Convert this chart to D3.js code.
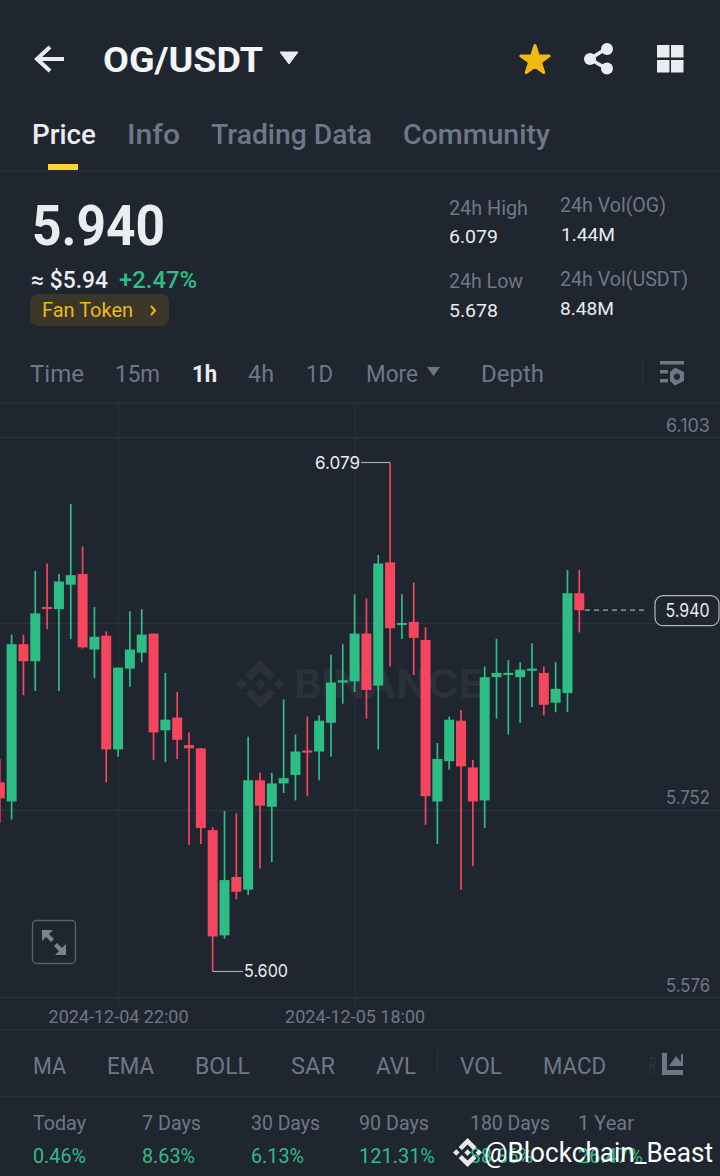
<!DOCTYPE html>
<html>
<head>
<meta charset="utf-8">
<script src="https://cdn.jsdelivr.net/npm/d3@7"></script>
<style>
  html, body { margin: 0; padding: 0; background: #1f2630; }
  svg { display: block; }
</style>
</head>
<body>
<div id="chart"></div>
<script>
const opens = [5.778,5.760,5.908,5.892,5.943,5.941,5.964,5.974,5.903,5.916,5.809,5.885,5.900,5.918,5.827,5.839,5.813,5.810,5.733,5.634,5.689,5.677,5.780,5.755,5.777,5.785,5.808,5.807,5.834,5.872,5.873,5.918,5.869,5.985,5.927,5.929,5.912,5.760,5.798,5.836,5.792,5.761,5.877,5.879,5.877,5.883,5.881,5.853,5.862,5.956];
const highs = [5.800,5.917,5.917,5.977,5.984,5.974,6.040,6.000,5.943,5.920,5.886,5.939,5.941,5.918,5.881,5.863,5.825,5.810,5.736,5.751,5.749,5.821,5.787,5.787,5.856,5.823,5.840,5.841,5.898,5.908,5.955,5.951,5.992,6.079,5.955,5.966,5.924,5.815,5.840,5.846,5.799,5.887,5.913,5.893,5.891,5.909,5.887,5.891,5.978,5.978];
const lows = [5.740,5.743,5.860,5.864,5.922,5.864,5.913,5.904,5.876,5.778,5.802,5.868,5.891,5.799,5.797,5.800,5.719,5.720,5.600,5.631,5.668,5.672,5.697,5.703,5.768,5.761,5.765,5.780,5.802,5.852,5.863,5.838,5.809,5.887,5.913,5.879,5.738,5.720,5.790,5.677,5.699,5.735,5.838,5.823,5.834,5.849,5.841,5.844,5.844,5.919];
const closes = [5.763,5.908,5.892,5.937,5.942,5.967,5.973,5.905,5.915,5.809,5.886,5.903,5.917,5.825,5.837,5.818,5.810,5.735,5.633,5.686,5.675,5.780,5.756,5.777,5.782,5.807,5.806,5.836,5.872,5.874,5.918,5.865,5.984,5.923,5.928,5.914,5.765,5.800,5.837,5.793,5.760,5.877,5.881,5.881,5.884,5.885,5.851,5.866,5.956,5.940];

const priceTicks = [6.103, 5.928, 5.752, 5.576];
const priceLabels = ['6.103', '', '5.752', '5.576'];
const timeTicks = ['2024-12-04 22:00', '2024-12-05 18:00'];
const firstCandle = '2024-12-04 12:00';
const lastPrice = 5.940;
const dayHigh = 6.079;
const dayLow = 5.600;

const tabs = [['Price', 32, 64], ['Info', 127, 53], ['Trading Data', 211, 161], ['Community', 403, 147]];
const stats = [
  ['24h High', 449, 215, 79, '6.079', 243, 49],
  ['24h Vol(OG)', 560, 212, 106, '1.44M', 241, 54],
  ['24h Low', 449, 288, 74, '5.678', 317, 49],
  ['24h Vol(USDT)', 560, 286, 128, '8.48M', 315, 54]
];
const intervals = [['Time', 30, 54], ['15m', 115, 45], ['1h', 192, 25], ['4h', 248, 26], ['1D', 306, 27], ['More', 366, 52], ['Depth', 481, 63]];
const indicators = [['MA', 33, 33], ['EMA', 107, 47], ['BOLL', 195, 55], ['SAR', 291, 44], ['AVL', 376, 40], ['VOL', 460, 42], ['MACD', 543, 63]];
const periods = [['Today', 33, 53, '0.46%', 53], ['7 Days', 142, 59, '8.63%', 53], ['30 Days', 251, 69, '6.13%', 53], ['90 Days', 359, 70, '121.31%', 76], ['180 Days', 470, 80, '88.86%', 63], ['1 Year', 578, 56, '26.47%', 65]];

const BG = '#1f2630', GRID = '#2b323d', GREEN = '#2ebd85', RED = '#f6465d';
const MUTED = '#6f7786', LIGHT = '#eaecef', YELLOW = '#f0b90b';
const LOGO = 'M38.73 53.2l24.59-24.58 24.6 24.6 14.3-14.31L63.32 0 24.43 38.9zM0 63.31l14.3-14.31 14.31 14.31-14.31 14.3zM38.73 73.41l24.59 24.59 24.6-24.6 14.31 14.29-38.9 38.91-38.91-38.88-.02-.02zM98 63.31l14.3-14.31 14.31 14.3-14.31 14.32zM77.83 63.3L63.32 48.78 52.59 59.51l-1.24 1.23-2.54 2.54 14.51 14.5 14.51-14.47z';

const width = 720, height = 1176;
const svg = d3.select('#chart').append('svg').attr('width', width).attr('height', height)
  .style('background', BG).style('font-family', 'Roboto, sans-serif');

// text squeezed to the width it has in the screenshot, the app font is narrower than Roboto
const label = (parent, str, x, y, size, fill, len, weight = 400) => {
  const t = parent.append('text').attr('x', x).attr('y', y).attr('font-size', size)
    .attr('fill', fill).attr('font-weight', weight).text(str);
  if (len) t.attr('textLength', len).attr('lengthAdjust', 'spacingAndGlyphs');
  return t;
};
const hline = (y) => svg.append('line').attr('x1', 0).attr('x2', width).attr('y1', y).attr('y2', y)
  .attr('stroke', GRID).attr('stroke-width', 1.5);

// header
svg.append('path').attr('d', 'M64 59H38M50 47L37 59L50 71').attr('fill', 'none')
  .attr('stroke', LIGHT).attr('stroke-width', 4);
label(svg, 'OG/USDT', 103, 72, 35, '#f4f5f6', 160, 700);
svg.append('path').attr('d', 'M280 52H298L289 64Z').attr('fill', LIGHT).attr('stroke', LIGHT).attr('stroke-width', 1).attr('stroke-linejoin', 'round');
svg.append('path').attr('d', d3.symbol(d3.symbolStar, 250)()).attr('transform', 'translate(535,60.5)')
  .attr('fill', YELLOW).attr('stroke', YELLOW).attr('stroke-width', 3).attr('stroke-linejoin', 'round');
svg.append('path').attr('d', 'M607 48L590 59L607 69').attr('fill', 'none').attr('stroke', LIGHT).attr('stroke-width', 3.5);
[[607, 49], [590, 59], [607, 68.5]].forEach(([cx, cy]) => svg.append('circle').attr('cx', cx).attr('cy', cy).attr('r', 6).attr('fill', LIGHT));
[[657, 45], [671, 45], [657, 60], [671, 60]].forEach(([x, y]) => svg.append('rect').attr('x', x).attr('y', y).attr('width', 12.5).attr('height', 12.5).attr('fill', LIGHT));

// tabs
tabs.forEach(([name, x, len], i) => label(svg, name, x, 144, 27, i === 0 ? LIGHT : MUTED, len, 500));
svg.append('rect').attr('x', 48).attr('y', 164).attr('width', 30).attr('height', 6).attr('fill', '#fcd535');
hline(171);

// price block
label(svg, '5.940', 32, 245, 56, LIGHT, 133, 700);
label(svg, '≈ $5.94', 31, 288, 23, LIGHT, 77, 500);
label(svg, '+2.47%', 119, 288, 23, GREEN, 78, 500);
svg.append('rect').attr('x', 30).attr('y', 294).attr('width', 139).attr('height', 32).attr('rx', 8).attr('fill', '#3a3628');
label(svg, 'Fan Token', 42, 317, 20, YELLOW, 91);
svg.append('path').attr('d', 'M151 306L155 310.5L151 315').attr('fill', 'none').attr('stroke', YELLOW).attr('stroke-width', 2);
stats.forEach(([name, x, y, len, value, vy, vlen]) => {
  label(svg, name, x, y, 20, MUTED, len);
  label(svg, value, x + (name === '24h Vol(OG)' ? 1 : 0), vy, 19, LIGHT, vlen);
});

// interval row
intervals.forEach(([name, x, len]) => label(svg, name, x, 382, 24, name === '1h' ? LIGHT : MUTED, len, name === '1h' ? 700 : 400));
svg.append('path').attr('d', 'M427 367H440L433.5 376Z').attr('fill', MUTED);
svg.append('line').attr('x1', 642.5).attr('x2', 642.5).attr('y1', 360).attr('y2', 385).attr('stroke', GRID).attr('stroke-width', 1.5);
svg.append('g').attr('fill', MUTED).call((g) => {
  g.append('rect').attr('x', 660).attr('y', 361).attr('width', 24).attr('height', 3.5);
  g.append('rect').attr('x', 660).attr('y', 370).attr('width', 8).attr('height', 3.5);
  g.append('rect').attr('x', 660).attr('y', 379).attr('width', 8).attr('height', 3.5);
  g.append('path').attr('fill-rule', 'evenodd').attr('d', 'M675 367.5L684 372V381L675 385.5L670 381V372ZM677 373.5a3.2 3.2 0 1 0 .01 0Z');
});
hline(403);

// chart scales
const parseTime = d3.timeParse('%Y-%m-%d %H:%M');
const formatTime = d3.timeFormat('%Y-%m-%d %H:%M');
const t0 = parseTime(firstCandle);
const candles = opens.map((open, i) => ({
  time: d3.timeHour.offset(t0, i), open, high: highs[i], low: lows[i], close: closes[i]
}));
const x = d3.scaleTime().domain([t0, d3.timeHour.offset(t0, opens.length - 1)]).range([-0.2, 579.3]);
const y = d3.scaleLinear().domain([5.576, 6.103]).range([997, 437]);

// grid from the axes
const xAxis = d3.axisBottom(x).tickValues(timeTicks.map(parseTime)).tickFormat(formatTime).tickSize(-605).tickPadding(0);
const gx = svg.append('g').attr('transform', 'translate(0,1008)').call(xAxis);
gx.select('.domain').remove();
gx.selectAll('line').attr('stroke', GRID).attr('stroke-width', 1);
gx.selectAll('text').attr('y', 15).attr('font-size', 18).attr('fill', MUTED).attr('font-family', 'Roboto, sans-serif')
  .attr('dy', 0).attr('textLength', 140).attr('lengthAdjust', 'spacingAndGlyphs');

const yAxis = d3.axisRight(y).tickValues(priceTicks).tickSize(width).tickFormat((d, i) => priceLabels[i]);
const gy = svg.append('g').call(yAxis);
gy.select('.domain').remove();
gy.selectAll('line').attr('stroke', GRID).attr('stroke-width', 1.5);
gy.selectAll('text').attr('x', 666).attr('dy', -6).attr('text-anchor', 'start').attr('font-size', 18)
  .attr('fill', MUTED).attr('font-family', 'Inter, Roboto, sans-serif')
  .attr('textLength', (d, i) => (priceLabels[i] ? 44 : null)).attr('lengthAdjust', 'spacingAndGlyphs');
hline(1030);

// watermark
svg.append('path').attr('d', LOGO).attr('transform', 'translate(236,660) scale(0.385)').attr('fill', '#2b303b');
label(svg, 'BINANCE', 294, 698, 39, '#2b303b', 190, 700).attr('font-family', 'Inter, Roboto, sans-serif');

// candles
const bodyW = 10;
const candle = svg.append('g').selectAll('g').data(candles).join('g')
  .attr('fill', (d) => (d.close >= d.open ? GREEN : RED))
  .attr('stroke', (d) => (d.close >= d.open ? GREEN : RED));
candle.append('line')
  .attr('x1', (d) => x(d.time)).attr('x2', (d) => x(d.time))
  .attr('y1', (d) => y(d.high)).attr('y2', (d) => y(d.low))
  .attr('stroke-width', 1.7);
candle.append('rect')
  .attr('x', (d) => x(d.time) - bodyW / 2).attr('width', bodyW)
  .attr('y', (d) => y(Math.max(d.open, d.close)))
  .attr('height', (d) => Math.max(Math.abs(y(d.open) - y(d.close)), 2))
  .attr('stroke', 'none');

// high and low callouts
const highCandle = candles[d3.greatestIndex(candles, (d) => d.high)];
const lowCandle = candles[d3.leastIndex(candles, (d) => d.low)];
svg.append('line').attr('x1', x(highCandle.time)).attr('x2', 361).attr('y1', y(dayHigh)).attr('y2', y(dayHigh)).attr('stroke', '#a5a9b0').attr('stroke-width', 1.2);
label(svg, d3.format('.3f')(dayHigh), 315, y(dayHigh) + 6, 17.5, LIGHT, 45).attr('font-family', 'Inter, Roboto, sans-serif');
svg.append('line').attr('x1', x(lowCandle.time)).attr('x2', 243).attr('y1', y(dayLow)).attr('y2', y(dayLow)).attr('stroke', '#a5a9b0').attr('stroke-width', 1.2);
label(svg, d3.format('.3f')(dayLow), 244, y(dayLow) + 6, 17.5, LIGHT, 44).attr('font-family', 'Inter, Roboto, sans-serif');

// last price marker
svg.append('line').attr('x1', 585).attr('x2', 646).attr('y1', y(lastPrice)).attr('y2', y(lastPrice))
  .attr('stroke', '#a5a9b0').attr('stroke-width', 1.2).attr('stroke-dasharray', '5 4');
svg.append('rect').attr('x', 655).attr('y', y(lastPrice) - 14.5).attr('width', 64).attr('height', 30).attr('rx', 8)
  .attr('fill', BG).attr('stroke', '#b4b8be').attr('stroke-width', 1.2);
label(svg, d3.format('.3f')(lastPrice), 665.5, y(lastPrice) + 7, 18, LIGHT, 44).attr('font-family', 'Inter, Roboto, sans-serif');

// expand button
svg.append('rect').attr('x', 32.5).attr('y', 920.5).attr('width', 43).attr('height', 43).attr('rx', 4)
  .attr('fill', 'none').attr('stroke', '#5a616d').attr('stroke-width', 1.3);
svg.append('path').attr('d', 'M42 930H53L49 934L54 939L51 942L46 937L42 941ZM66 955H55L59 951L54 946L57 943L62 948L66 944Z').attr('fill', '#7b828e');

// indicator row
indicators.forEach(([name, x0, len]) => label(svg, name, x0, 1074, 24, MUTED, len));
svg.append('line').attr('x1', 437.5).attr('x2', 437.5).attr('y1', 1052).attr('y2', 1075).attr('stroke', GRID).attr('stroke-width', 1.5);
label(svg, 'R', 649, 1074, 24, '#2d343f', 7);
svg.append('path').attr('d', 'M662 1053V1075H683V1070H667V1053ZM669 1066L676 1056L681 1062V1055L683 1053V1066Z').attr('fill', MUTED);
hline(1096.5);

// performance row
periods.forEach(([name, x0, len, value, vlen]) => {
  label(svg, name, x0, 1130, 20, MUTED, len);
  label(svg, value, x0, 1163, 20, GREEN, vlen);
});

// screenshot watermark
svg.append('path').attr('d', LOGO).attr('transform', 'translate(453,1138) scale(0.23)').attr('fill', '#e6e8ea');
label(svg, '@Blockchain_Beast', 484, 1162, 27, '#ffffff', 229);
</script>
</body>
</html>
